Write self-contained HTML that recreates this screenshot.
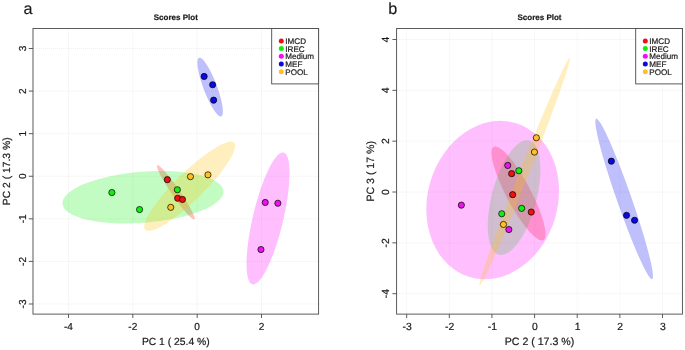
<!DOCTYPE html>
<html><head><meta charset="utf-8"><title>Scores Plot</title>
<style>
html,body{margin:0;padding:0;background:#fff;}
body{width:685px;height:350px;overflow:hidden;}
svg{display:block;text-rendering:geometricPrecision;font-family:"Liberation Sans",sans-serif;}
.pl{font-size:16.2px;fill:#1a1a1a;stroke:#1a1a1a;stroke-width:0.15;}
.tt{font-size:8px;font-weight:bold;fill:#1a1a1a;stroke:#1a1a1a;stroke-width:0.2;}
.tla,.tlb,.ala,.alb{fill:#1a1a1a;stroke:#1a1a1a;stroke-width:0.2;}
.tla{font-size:10.1px;}
.tlb{font-size:10.4px;}
.ala{font-size:10.35px;}
.alb{font-size:10.6px;}
.lt{font-size:8.1px;fill:#1a1a1a;stroke:#1a1a1a;stroke-width:0.2;}
.g{stroke:#d6d6d6;stroke-width:0.6;stroke-dasharray:0.7 1.3;}
.b{fill:none;stroke:#4a4a4a;stroke-width:0.9;}
.lb{fill:#fff;stroke:#4a4a4a;stroke-width:0.9;}
.t{stroke:#4a4a4a;stroke-width:0.9;}
.p{stroke:#000;stroke-opacity:0.7;stroke-width:1;}
</style></head><body>
<svg width="685" height="350" viewBox="0 0 685 350">
<rect x="0" y="0" width="685" height="350" fill="#fff"/>
<text x="23.4" y="13.6" class="pl">a</text>
<text x="175.8" y="19.8" class="tt" text-anchor="middle">Scores Plot</text>
<line x1="68.49" y1="28.5" x2="68.49" y2="314.1" class="g"/>
<line x1="132.83" y1="28.5" x2="132.83" y2="314.1" class="g"/>
<line x1="197.17" y1="28.5" x2="197.17" y2="314.1" class="g"/>
<line x1="261.51" y1="28.5" x2="261.51" y2="314.1" class="g"/>
<line x1="33" y1="303.99" x2="318.6" y2="303.99" class="g"/>
<line x1="33" y1="261.41" x2="318.6" y2="261.41" class="g"/>
<line x1="33" y1="218.83" x2="318.6" y2="218.83" class="g"/>
<line x1="33" y1="176.25" x2="318.6" y2="176.25" class="g"/>
<line x1="33" y1="133.67" x2="318.6" y2="133.67" class="g"/>
<line x1="33" y1="91.09" x2="318.6" y2="91.09" class="g"/>
<line x1="33" y1="48.51" x2="318.6" y2="48.51" class="g"/>
<ellipse cx="175.82" cy="192.45" rx="32.84" ry="4.05" transform="rotate(55.53 175.82 192.45)" fill="#ff0000" fill-opacity="0.25"/>
<ellipse cx="142.92" cy="197.28" rx="80.7" ry="25.52" transform="rotate(175.48 142.92 197.28)" fill="#0cf20c" fill-opacity="0.25"/>
<ellipse cx="268.02" cy="218.42" rx="67.72" ry="15.24" transform="rotate(103.28 268.02 218.42)" fill="#ff00fa" fill-opacity="0.25"/>
<ellipse cx="210.15" cy="87.12" rx="31.37" ry="6.76" transform="rotate(69.27 210.15 87.12)" fill="#0000ee" fill-opacity="0.25"/>
<ellipse cx="189.72" cy="186.28" rx="62.29" ry="13.93" transform="rotate(135.59 189.72 186.28)" fill="#ffc000" fill-opacity="0.25"/>
<circle cx="167.35" cy="179.65" r="3.1" fill="#ee1111" class="p"/>
<circle cx="177.65" cy="198.25" r="3.1" fill="#ee1111" class="p"/>
<circle cx="182.45" cy="199.45" r="3.1" fill="#ee1111" class="p"/>
<circle cx="111.85" cy="192.55" r="3.1" fill="#11ee11" class="p"/>
<circle cx="139.55" cy="209.55" r="3.1" fill="#11ee11" class="p"/>
<circle cx="177.35" cy="189.75" r="3.1" fill="#11ee11" class="p"/>
<circle cx="265.25" cy="202.45" r="3.1" fill="#ee11ee" class="p"/>
<circle cx="277.85" cy="203.25" r="3.1" fill="#ee11ee" class="p"/>
<circle cx="260.95" cy="249.55" r="3.1" fill="#ee11ee" class="p"/>
<circle cx="204.15" cy="76.45" r="3.1" fill="#0a0ae0" class="p"/>
<circle cx="212.65" cy="84.75" r="3.1" fill="#0a0ae0" class="p"/>
<circle cx="213.65" cy="100.15" r="3.1" fill="#0a0ae0" class="p"/>
<circle cx="190.45" cy="176.65" r="3.1" fill="#ffc020" class="p"/>
<circle cx="207.95" cy="174.85" r="3.1" fill="#ffc020" class="p"/>
<circle cx="170.75" cy="207.35" r="3.1" fill="#ffc020" class="p"/>
<rect x="33" y="28.5" width="285.6" height="285.6" class="b"/>
<line x1="68.49" y1="314.1" x2="68.49" y2="318" class="t"/>
<text x="68.49" y="330" class="tla" text-anchor="middle">-4</text>
<line x1="132.83" y1="314.1" x2="132.83" y2="318" class="t"/>
<text x="132.83" y="330" class="tla" text-anchor="middle">-2</text>
<line x1="197.17" y1="314.1" x2="197.17" y2="318" class="t"/>
<text x="197.17" y="330" class="tla" text-anchor="middle">0</text>
<line x1="261.51" y1="314.1" x2="261.51" y2="318" class="t"/>
<text x="261.51" y="330" class="tla" text-anchor="middle">2</text>
<line x1="28.8" y1="303.99" x2="33" y2="303.99" class="t"/>
<text transform="translate(25.5 303.99) rotate(-90)" class="tla" text-anchor="middle">-3</text>
<line x1="28.8" y1="261.41" x2="33" y2="261.41" class="t"/>
<text transform="translate(25.5 261.41) rotate(-90)" class="tla" text-anchor="middle">-2</text>
<line x1="28.8" y1="218.83" x2="33" y2="218.83" class="t"/>
<text transform="translate(25.5 218.83) rotate(-90)" class="tla" text-anchor="middle">-1</text>
<line x1="28.8" y1="176.25" x2="33" y2="176.25" class="t"/>
<text transform="translate(25.5 176.25) rotate(-90)" class="tla" text-anchor="middle">0</text>
<line x1="28.8" y1="133.67" x2="33" y2="133.67" class="t"/>
<text transform="translate(25.5 133.67) rotate(-90)" class="tla" text-anchor="middle">1</text>
<line x1="28.8" y1="91.09" x2="33" y2="91.09" class="t"/>
<text transform="translate(25.5 91.09) rotate(-90)" class="tla" text-anchor="middle">2</text>
<line x1="28.8" y1="48.51" x2="33" y2="48.51" class="t"/>
<text transform="translate(25.5 48.51) rotate(-90)" class="tla" text-anchor="middle">3</text>
<text x="175.8" y="345" class="ala" text-anchor="middle">PC 1 ( 25.4 %)</text>
<text transform="translate(10 171.3) rotate(-90)" class="ala" text-anchor="middle">PC 2 ( 17.3 %)</text>
<rect x="271.7" y="28.5" width="46.9" height="55.4" class="lb"/>
<circle cx="281.3" cy="40.9" r="2.5" fill="#ee1111"/>
<text x="285.3" y="43.8" class="lt">IMCD</text>
<circle cx="281.3" cy="48.62" r="2.5" fill="#11ee11"/>
<text x="285.3" y="51.52" class="lt">IREC</text>
<circle cx="281.3" cy="56.34" r="2.5" fill="#ee11ee"/>
<text x="285.3" y="59.24" class="lt">Medium</text>
<circle cx="281.3" cy="64.06" r="2.5" fill="#0a0ae0"/>
<text x="285.3" y="66.96" class="lt">MEF</text>
<circle cx="281.3" cy="71.78" r="2.5" fill="#ffc020"/>
<text x="285.3" y="74.68" class="lt">POOL</text>
<text x="388.3" y="13.6" class="pl">b</text>
<text x="539.5" y="19.8" class="tt" text-anchor="middle">Scores Plot</text>
<line x1="406.66" y1="28.5" x2="406.66" y2="314.1" class="g"/>
<line x1="449.3" y1="28.5" x2="449.3" y2="314.1" class="g"/>
<line x1="491.94" y1="28.5" x2="491.94" y2="314.1" class="g"/>
<line x1="534.58" y1="28.5" x2="534.58" y2="314.1" class="g"/>
<line x1="577.22" y1="28.5" x2="577.22" y2="314.1" class="g"/>
<line x1="619.86" y1="28.5" x2="619.86" y2="314.1" class="g"/>
<line x1="662.5" y1="28.5" x2="662.5" y2="314.1" class="g"/>
<line x1="396.6" y1="39.49" x2="682.4" y2="39.49" class="g"/>
<line x1="396.6" y1="90.33" x2="682.4" y2="90.33" class="g"/>
<line x1="396.6" y1="141.17" x2="682.4" y2="141.17" class="g"/>
<line x1="396.6" y1="192.01" x2="682.4" y2="192.01" class="g"/>
<line x1="396.6" y1="242.85" x2="682.4" y2="242.85" class="g"/>
<line x1="396.6" y1="293.69" x2="682.4" y2="293.69" class="g"/>
<ellipse cx="518.52" cy="193.45" rx="52.88" ry="12.21" transform="rotate(62.06 518.52 193.45)" fill="#ff0000" fill-opacity="0.25"/>
<ellipse cx="514.08" cy="197.62" rx="59.01" ry="22.37" transform="rotate(104.8 514.08 197.62)" fill="#0cf20c" fill-opacity="0.25"/>
<ellipse cx="492.65" cy="200.05" rx="80.33" ry="64.97" transform="rotate(106.62 492.65 200.05)" fill="#ff00fa" fill-opacity="0.25"/>
<ellipse cx="624.15" cy="198.92" rx="84.99" ry="7.31" transform="rotate(70.76 624.15 198.92)" fill="#0000ee" fill-opacity="0.25"/>
<ellipse cx="524.75" cy="171.42" rx="122.35" ry="4.62" transform="rotate(111.6 524.75 171.42)" fill="#ffc000" fill-opacity="0.25"/>
<circle cx="511.65" cy="173.65" r="3.1" fill="#ee1111" class="p"/>
<circle cx="512.65" cy="194.65" r="3.1" fill="#ee1111" class="p"/>
<circle cx="531.25" cy="212.05" r="3.1" fill="#ee1111" class="p"/>
<circle cx="518.85" cy="170.75" r="3.1" fill="#11ee11" class="p"/>
<circle cx="521.65" cy="208.35" r="3.1" fill="#11ee11" class="p"/>
<circle cx="501.75" cy="213.75" r="3.1" fill="#11ee11" class="p"/>
<circle cx="507.75" cy="165.45" r="3.1" fill="#ee11ee" class="p"/>
<circle cx="461.35" cy="205.15" r="3.1" fill="#ee11ee" class="p"/>
<circle cx="508.85" cy="229.55" r="3.1" fill="#ee11ee" class="p"/>
<circle cx="611.35" cy="161.15" r="3.1" fill="#0a0ae0" class="p"/>
<circle cx="626.55" cy="215.35" r="3.1" fill="#0a0ae0" class="p"/>
<circle cx="634.55" cy="220.25" r="3.1" fill="#0a0ae0" class="p"/>
<circle cx="536.35" cy="137.75" r="3.1" fill="#ffc020" class="p"/>
<circle cx="534.45" cy="152.05" r="3.1" fill="#ffc020" class="p"/>
<circle cx="503.45" cy="224.45" r="3.1" fill="#ffc020" class="p"/>
<rect x="396.6" y="28.5" width="285.8" height="285.6" class="b"/>
<line x1="406.66" y1="314.1" x2="406.66" y2="318" class="t"/>
<text x="407.06" y="330" class="tlb" text-anchor="middle">-3</text>
<line x1="449.3" y1="314.1" x2="449.3" y2="318" class="t"/>
<text x="449.7" y="330" class="tlb" text-anchor="middle">-2</text>
<line x1="491.94" y1="314.1" x2="491.94" y2="318" class="t"/>
<text x="492.34" y="330" class="tlb" text-anchor="middle">-1</text>
<line x1="534.58" y1="314.1" x2="534.58" y2="318" class="t"/>
<text x="534.98" y="330" class="tlb" text-anchor="middle">0</text>
<line x1="577.22" y1="314.1" x2="577.22" y2="318" class="t"/>
<text x="577.62" y="330" class="tlb" text-anchor="middle">1</text>
<line x1="619.86" y1="314.1" x2="619.86" y2="318" class="t"/>
<text x="620.26" y="330" class="tlb" text-anchor="middle">2</text>
<line x1="662.5" y1="314.1" x2="662.5" y2="318" class="t"/>
<text x="662.9" y="330" class="tlb" text-anchor="middle">3</text>
<line x1="392.4" y1="39.49" x2="396.6" y2="39.49" class="t"/>
<text transform="translate(389.1 39.49) rotate(-90)" class="tlb" text-anchor="middle">4</text>
<line x1="392.4" y1="90.33" x2="396.6" y2="90.33" class="t"/>
<text transform="translate(389.1 90.33) rotate(-90)" class="tlb" text-anchor="middle">4</text>
<line x1="392.4" y1="141.17" x2="396.6" y2="141.17" class="t"/>
<text transform="translate(389.1 141.17) rotate(-90)" class="tlb" text-anchor="middle">2</text>
<line x1="392.4" y1="192.01" x2="396.6" y2="192.01" class="t"/>
<text transform="translate(389.1 192.01) rotate(-90)" class="tlb" text-anchor="middle">0</text>
<line x1="392.4" y1="242.85" x2="396.6" y2="242.85" class="t"/>
<text transform="translate(389.1 242.85) rotate(-90)" class="tlb" text-anchor="middle">-2</text>
<line x1="392.4" y1="293.69" x2="396.6" y2="293.69" class="t"/>
<text transform="translate(389.1 293.69) rotate(-90)" class="tlb" text-anchor="middle">-4</text>
<text x="539.5" y="345" class="alb" text-anchor="middle">PC 2 ( 17.3 %)</text>
<text transform="translate(373.6 171.3) rotate(-90)" class="alb" text-anchor="middle">PC 3 ( 17 %)</text>
<rect x="635.7" y="28.5" width="46.7" height="55.4" class="lb"/>
<circle cx="645.3" cy="40.9" r="2.5" fill="#ee1111"/>
<text x="649.3" y="43.8" class="lt">IMCD</text>
<circle cx="645.3" cy="48.62" r="2.5" fill="#11ee11"/>
<text x="649.3" y="51.52" class="lt">IREC</text>
<circle cx="645.3" cy="56.34" r="2.5" fill="#ee11ee"/>
<text x="649.3" y="59.24" class="lt">Medium</text>
<circle cx="645.3" cy="64.06" r="2.5" fill="#0a0ae0"/>
<text x="649.3" y="66.96" class="lt">MEF</text>
<circle cx="645.3" cy="71.78" r="2.5" fill="#ffc020"/>
<text x="649.3" y="74.68" class="lt">POOL</text>
</svg>
</body></html>
